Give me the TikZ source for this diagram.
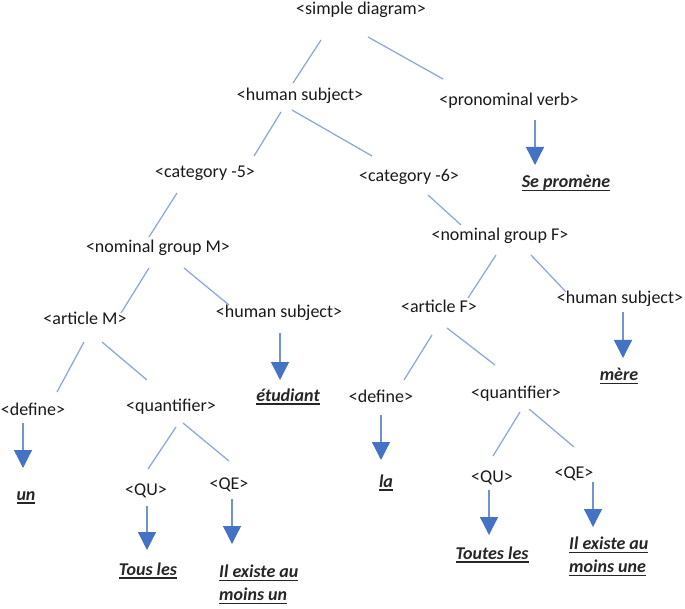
\documentclass[tikz,border=0pt]{standalone}
\usepackage{fontspec}
\setmainfont{Carlito}
\newcommand\myul[1]{\leavevmode\setbox0\hbox{#1}\rlap{\rule[-3.5pt]{\wd0}{1.1pt}}\box0}
\usetikzlibrary{arrows.meta,calc}
\definecolor{linkblue}{RGB}{142,169,219}
\definecolor{shaftblue}{RGB}{110,148,214}
\definecolor{headblue}{RGB}{68,114,196}
\begin{document}
\begin{tikzpicture}[x=1pt,y=-1pt,
  lab/.style={inner sep=0pt,anchor=base,font=\fontsize{18}{23}\selectfont,text=black!90},
  word/.style={inner sep=0pt,anchor=base,font=\fontsize{18}{23}\selectfont\bfseries\itshape,text=black!85},
  wordblock/.style={inner sep=0pt,anchor=north west,align=left,font=\fontsize{18}{23}\selectfont\bfseries\itshape,text=black!85},
  conn/.style={draw=linkblue,line width=1.3pt},
  down/.style={draw=shaftblue,line width=1.3pt,-{Triangle[width=18pt,length=18pt,color=headblue,fill=headblue]}}]
\useasboundingbox (0,0) rectangle (685,609);
% nodes
\node[lab] (sd) at (361,15) {<simple diagram>};
\node[lab] (hs1) at (300,101) {<human subject>};
\node[lab] (pv) at (509,106) {<pronominal verb>};
\node[lab] (c5) at (205,178) {<category -5>};
\node[lab] (c6) at (409,182) {<category -6>};
\node[word] (sp) at (566,188) {\myul{Se promène}};
\node[lab] (ngM) at (158,253) {<nominal group M>};
\node[lab] (ngF) at (500,241) {<nominal group F>};
\node[lab] (aM) at (85,325) {<article M>};
\node[lab] (hs2) at (279,318) {<human subject>};
\node[lab] (aF) at (439,313) {<article F>};
\node[lab] (hs3) at (620,304) {<human subject>};
\node[word] (et) at (288,401) {\myul{étudiant}};
\node[word] (me) at (619,381) {\myul{mère}};
\node[lab] (dM) at (33,415) {<define>};
\node[lab] (qM) at (171,411) {<quantifier>};
\node[lab] (dF) at (381,402) {<define>};
\node[lab] (qF) at (516,398) {<quantifier>};
\node[word] (un) at (26,500) {\myul{un}};
\node[word] (la) at (386,487) {\myul{la}};
\node[lab] (quM) at (146,495) {<QU>};
\node[lab] (qeM) at (229,489) {<QE>};
\node[lab] (quF) at (492,482) {<QU>};
\node[lab] (qeF) at (574,478) {<QE>};
\node[word] (tl) at (148,575) {\myul{Tous les}};
\node[wordblock] (ie1) at (219,565) {\myul{Il existe au}\\\myul{moins un}};
\node[word] (tlF) at (492,559) {\myul{Toutes les}};
\node[wordblock] (ie2) at (569,537) {\myul{Il existe au}\\\myul{moins une}};
% connectors
\draw[conn] ($(sd.base)+(-40,25)$) -- ($(hs1.base)+(-7,-18)$);
\draw[conn] ($(sd.base)+(7,22)$) -- ($(pv.base)+(-66,-27)$);
\draw[conn] ($(hs1.base)+(-19,11)$) -- ($(c5.base)+(49,-22)$);
\draw[conn] ($(hs1.base)+(-8,9)$) -- ($(c6.base)+(-37,-26)$);
\draw[conn] ($(c5.base)+(-28,15)$) -- ($(ngM.base)+(-9,-16)$);
\draw[conn] ($(c6.base)+(19,13)$) -- ($(ngF.base)+(-39,-16)$);
\draw[conn] ($(ngM.base)+(-9,15)$) -- ($(aM.base)+(36,-12)$);
\draw[conn] ($(ngM.base)+(26,15)$) -- ($(hs2.base)+(-50,-13)$);
\draw[conn] ($(ngF.base)+(-4,14)$) -- ($(aF.base)+(29,-15)$);
\draw[conn] ($(ngF.base)+(31,14)$) -- ($(hs3.base)+(-54,-12)$);
\draw[conn] ($(aM.base)+(-1,17)$) -- ($(dM.base)+(24,-23)$);
\draw[conn] ($(aM.base)+(17,17)$) -- ($(qM.base)+(-24,-31)$);
\draw[conn] ($(aF.base)+(-7,22)$) -- ($(dF.base)+(23,-22)$);
\draw[conn] ($(aF.base)+(8,15)$) -- ($(qF.base)+(-21,-33)$);
\draw[conn] ($(qM.base)+(5,16)$) -- ($(quM.base)+(2,-26)$);
\draw[conn] ($(qM.base)+(12,12)$) -- ($(qeM.base)+(0,-28)$);
\draw[conn] ($(qF.base)+(4,14)$) -- ($(quF.base)+(1,-26)$);
\draw[conn] ($(qF.base)+(13,11)$) -- ($(qeF.base)+(0,-31)$);
% arrows
\draw[down] ($(pv.base)+(26,14)$) -- ($(sp.base)+(-31,-23)$);
\draw[down] ($(hs2.base)+(1,15)$) -- ($(et.base)+(-8,-21)$);
\draw[down] ($(hs3.base)+(3,8)$) -- ($(me.base)+(4,-23)$);
\draw[down] ($(dM.base)+(-10,8)$) -- ($(un.base)+(-3,-32)$);
\draw[down] ($(dF.base)+(0,13)$) -- ($(la.base)+(-5,-27)$);
\draw[down] ($(quM.base)+(1,11)$) -- ($(tl.base)+(-1,-25)$);
\draw[down] ($(qeM.base)+(3,10)$) -- ($(ie1.north west)+(13,-21)$);
\draw[down] ($(quF.base)+(-3,8)$) -- ($(tlF.base)+(-3,-24)$);
\draw[down] ($(qeF.base)+(19,4)$) -- ($(ie2.north west)+(24,-10)$);
\end{tikzpicture}
\end{document}
